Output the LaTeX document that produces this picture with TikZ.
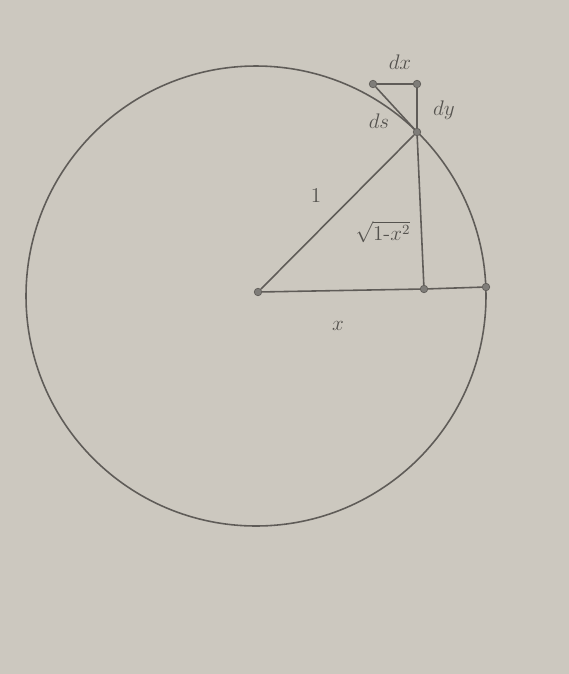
\documentclass[tikz,border=0pt]{standalone}
\usepackage{tikz}
\usetikzlibrary{positioning}
\definecolor{paper}{RGB}{204,200,191}
\definecolor{ink}{RGB}{95,92,88}
\tikzset
{
    dotnode/.style = {circle, draw=ink, fill=ink!80!white, inner sep=0pt, minimum size=0.15cm},
    textnode/.style = {text=ink!90!black, font=\large},
    edge/.style = {draw=ink, line width=0.9pt}
}
\usepackage{amsmath}

\begin{document}
\begin{tikzpicture}[x=0.02cm, y=-0.02cm]
\fill[paper] (0,0) rectangle (569,674);
\useasboundingbox (0,0) rectangle (569,674);
% circle
\draw[edge] (256,296) circle (230);
% points
\node[dotnode] (O) at (258,292) {};
\node[dotnode] (F) at (424,289) {};
\node[dotnode] (R) at (486,287) {};
\node[dotnode] (P) at (417,132) {};
\node[dotnode] (Q) at (373,84) {};
\node[dotnode] (C) at (417,84) {};
% segments
\draw[edge] (O) -- (P);
\draw[edge] (O) -- (F) -- (R);
\draw[edge] (P) -- (F);
\draw[edge] (Q) -- (C) -- (P) -- (Q);
% labels
\node[textnode] (lone) at (316,196) {$1$};
\node[textnode] (lroot) at (383,232) {$\sqrt{1\text{-}x^2}$};
\node[textnode] (lx) at (338,326) {$x$};
\node[textnode] (ldx) at (400,62) {$dx$};
\node[textnode] (ldy) at (444,110) {$dy$};
\node[textnode] (lds) at (379,121) {$ds$};
\end{tikzpicture}
\end{document}
